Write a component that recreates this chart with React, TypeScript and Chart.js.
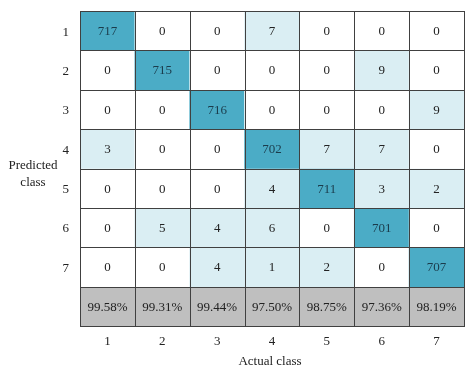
import React, { useEffect, useRef } from 'react';
import { Chart, registerables } from 'chart.js';

Chart.register(...registerables);

const actualClasses = ['1', '2', '3', '4', '5', '6', '7'];
const predictedClasses = ['1', '2', '3', '4', '5', '6', '7'];

const row1 = [717, 0, 0, 7, 0, 0, 0];
const row2 = [0, 715, 0, 0, 0, 9, 0];
const row3 = [0, 0, 716, 0, 0, 0, 9];
const row4 = [3, 0, 0, 702, 7, 7, 0];
const row5 = [0, 0, 0, 4, 711, 3, 2];
const row6 = [0, 5, 4, 6, 0, 701, 0];
const row7 = [0, 0, 4, 1, 2, 0, 707];
const accuracy = [99.58, 99.31, 99.44, 97.5, 98.75, 97.36, 98.19];

const xTitle = 'Actual class';
const yTitleLines = ['Predicted', 'class'];

const DARK = '#4bacc6';
const LIGHT = '#daeef3';
const GRAY = '#bfbfbf';
const WHITE = '#ffffff';
const LINE = '#404040';
const TEXT = '#222222';
const FONT_FAMILY = '"Liberation Serif", "Times New Roman", serif';

export default function App() {
  const canvasRef = useRef<HTMLCanvasElement | null>(null);

  useEffect(() => {
    document.body.style.margin = '0';
    const canvas = canvasRef.current;
    if (!canvas) return;

    const rows = [row1, row2, row3, row4, row5, row6, row7];

    const datasets: any[] = rows.map((row, r) => ({
      label: predictedClasses[r],
      data: actualClasses.map(() => [r + 0.5, r + 1.5]),
      cellText: row.map((v) => String(v)),
      backgroundColor: row.map((v, c) => (c === r ? DARK : v > 0 ? LIGHT : WHITE)),
    }));
    datasets.push({
      label: 'accuracy',
      data: actualClasses.map(() => [rows.length + 0.5, rows.length + 1.5]),
      cellText: accuracy.map((v) => v.toFixed(2) + '%'),
      backgroundColor: accuracy.map(() => GRAY),
    });

    const cellPlugin = {
      id: 'cellPlugin',
      afterDatasetsDraw(chart: any) {
        const ctx = chart.ctx;
        ctx.save();
        ctx.strokeStyle = LINE;
        ctx.lineWidth = 1;
        chart.data.datasets.forEach((ds: any, di: number) => {
          const meta = chart.getDatasetMeta(di);
          meta.data.forEach((bar: any) => {
            const left = Math.round(bar.x - bar.width / 2) + 0.5;
            const right = Math.round(bar.x + bar.width / 2) + 0.5;
            const top = Math.round(Math.min(bar.y, bar.base)) + 0.5;
            const bottom = Math.round(Math.max(bar.y, bar.base)) + 0.5;
            ctx.strokeRect(left, top, right - left, bottom - top);
          });
        });
        ctx.font = `13px ${FONT_FAMILY}`;
        ctx.textAlign = 'center';
        ctx.textBaseline = 'middle';
        chart.data.datasets.forEach((ds: any, di: number) => {
          const meta = chart.getDatasetMeta(di);
          meta.data.forEach((bar: any, i: number) => {
            const cy = (bar.y + bar.base) / 2;
            ctx.fillStyle = di < rows.length && i === di ? '#1b3c4c' : TEXT;
            ctx.fillText(ds.cellText[i], bar.x, cy + 1);
          });
        });
        ctx.restore();
      },
      afterDraw(chart: any) {
        const ctx = chart.ctx;
        const area = chart.chartArea;
        ctx.save();
        ctx.fillStyle = TEXT;
        ctx.font = `13px ${FONT_FAMILY}`;
        ctx.textAlign = 'center';
        ctx.textBaseline = 'middle';
        const midY = (area.top + area.bottom) / 2;
        ctx.fillText(yTitleLines[0], 33, midY - 2.5);
        ctx.fillText(yTitleLines[1], 33, midY + 14);
        ctx.fillText(xTitle, (area.left + area.right) / 2 - 2, area.bottom + 36);
        ctx.restore();
      },
    };

    const chart = new Chart(canvas, {
      type: 'bar',
      data: { labels: actualClasses, datasets },
      options: {
        animation: false,
        responsive: true,
        maintainAspectRatio: false,
        layout: { padding: { top: 11, right: 10, left: 0, bottom: 0 } },
        datasets: {
          bar: {
            grouped: false,
            barPercentage: 1,
            categoryPercentage: 1,
            borderWidth: 0,
          } as any,
        },
        plugins: {
          legend: { display: false },
          tooltip: { enabled: false },
        },
        scales: {
          x: {
            type: 'category',
            grid: { display: false, drawTicks: false },
            border: { display: false },
            ticks: {
              padding: 8,
              color: TEXT,
              font: { family: FONT_FAMILY, size: 13 },
            },
            afterFit: (scale: any) => {
              scale.height = 49;
              scale.paddingLeft = 0;
              scale.paddingRight = 0;
            },
          },
          y: {
            type: 'linear',
            min: 0.5,
            max: 8.5,
            reverse: true,
            grid: { display: false, drawTicks: false },
            border: { display: false },
            afterBuildTicks: (scale: any) => {
              scale.ticks = predictedClasses.map((_, i) => ({ value: i + 1 }));
            },
            ticks: {
              padding: 11,
              labelOffset: 1.5,
              color: TEXT,
              font: { family: FONT_FAMILY, size: 13 },
              callback: (v: any) => predictedClasses[Number(v) - 1] ?? '',
            },
            afterFit: (scale: any) => {
              scale.width = 80;
              scale.paddingTop = 0;
              scale.paddingBottom = 0;
            },
          },
        },
      },
      plugins: [cellPlugin],
    });

    return () => chart.destroy();
  }, []);

  return (
    <div style={{ position: 'fixed', left: 0, top: 0, width: 474, height: 375, background: '#fff' }}>
      <canvas ref={canvasRef} />
    </div>
  );
}
